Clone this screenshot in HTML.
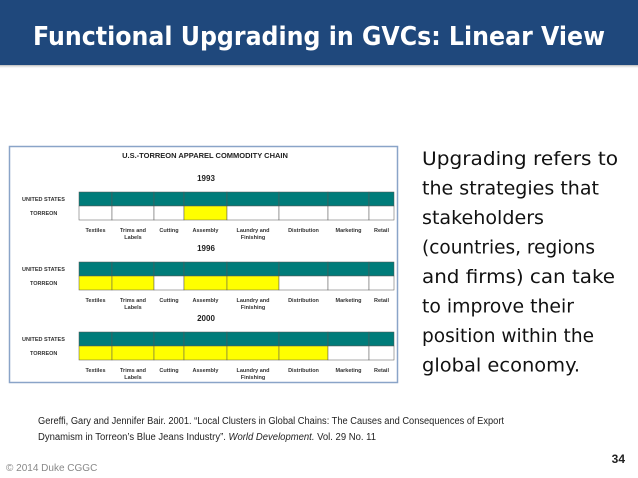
<!DOCTYPE html>
<html><head><meta charset="utf-8"><style>
html,body{margin:0;padding:0;background:#fff;}
svg{display:block;font-family:"Liberation Sans",sans-serif;}
</style></head><body>
<svg width="638" height="478" viewBox="0 0 638 478" xmlns="http://www.w3.org/2000/svg">
<defs><linearGradient id="sh" x1="0" y1="0" x2="0" y2="1"><stop offset="0" stop-color="#888" stop-opacity="0.6"/><stop offset="1" stop-color="#fff" stop-opacity="0"/></linearGradient></defs>
<rect x="0" y="0" width="638" height="65" fill="#1f487c"/>
<rect x="0" y="65" width="638" height="4" fill="url(#sh)"/>
<text x="33" y="45" font-size="26" font-weight="bold" fill="#fff" textLength="572" lengthAdjust="spacingAndGlyphs" font-family="DejaVu Sans, Liberation Sans, sans-serif">Functional Upgrading in GVCs: Linear View</text>

<rect x="9.5" y="146.5" width="388" height="236" fill="#fff" stroke="#8aa4c8" stroke-width="1.5"/>
<text x="205" y="158" font-size="7.5" font-weight="bold" text-anchor="middle" fill="#222">U.S.-TORREON APPAREL COMMODITY CHAIN</text>
<g id="chart"></g>

<g font-family="DejaVu Sans, Liberation Sans, sans-serif" font-size="19" fill="#111">
<text x="422" y="165" textLength="196" lengthAdjust="spacingAndGlyphs">Upgrading refers to</text>
<text x="422" y="194.5" textLength="177" lengthAdjust="spacingAndGlyphs">the strategies that</text>
<text x="422" y="224" textLength="122" lengthAdjust="spacingAndGlyphs">stakeholders</text>
<text x="422" y="253.5" textLength="173" lengthAdjust="spacingAndGlyphs">(countries, regions</text>
<text x="422" y="283" textLength="193" lengthAdjust="spacingAndGlyphs">and firms) can take</text>
<text x="422" y="312.5" textLength="152" lengthAdjust="spacingAndGlyphs">to improve their</text>
<text x="422" y="342" textLength="172" lengthAdjust="spacingAndGlyphs">position within the</text>
<text x="422" y="371.5" textLength="158" lengthAdjust="spacingAndGlyphs">global economy.</text>
</g>

<g font-size="10" fill="#222">
<text x="38" y="424" textLength="466" lengthAdjust="spacingAndGlyphs">Gereffi, Gary and Jennifer Bair.  2001.  “Local Clusters in Global Chains: The Causes and Consequences of Export</text>
<text x="38" y="440" textLength="338" lengthAdjust="spacingAndGlyphs">Dynamism in Torreon’s Blue Jeans Industry”. <tspan font-style="italic">World Development.</tspan> Vol. 29 No. 11</text>
</g>
<text x="625" y="463" font-size="12" font-weight="bold" text-anchor="end" fill="#222">34</text>
<text x="6" y="471" font-size="10" fill="#888">© 2014 Duke CGGC</text>
</svg>
<script>
const stages = ["Textiles","Trims and|Labels","Cutting","Assembly","Laundry and|Finishing","Distribution","Marketing","Retail"];
const years = ["1993","1996","2000"];
const torreon1993 = [0,0,0,1,0,0,0,0];
const torreon1996 = [1,1,0,1,1,0,0,0];
const torreon2000 = [1,1,1,1,1,1,0,0];
const torreonData = [torreon1993, torreon1996, torreon2000];
const colWidths = [33,42,30,43,52,49,41,25];

const NS = "http://www.w3.org/2000/svg";
const g = document.getElementById('chart');
const x0 = 79, rowH = 14;
const panelY = i => 192 + i * 70;
function mk(tag, attrs){const e=document.createElementNS(NS,tag);for(const k in attrs)e.setAttribute(k,attrs[k]);g.appendChild(e);return e;}
years.forEach((yr, i) => {
  const y = panelY(i);
  const yt = mk('text',{x:206,y:y-11,'font-size':8,'font-weight':'bold','text-anchor':'middle',fill:'#222'});
  yt.textContent = yr;
  
  
  const us = mk('text',{x:22,y:y+9,'font-size':5.5,'font-weight':'bold',fill:'#333'});
  us.textContent = 'UNITED STATES';
  
  
  const tr = mk('text',{x:30,y:y+23,'font-size':5.5,'font-weight':'bold',fill:'#333'});
  tr.textContent = 'TORREON';
  
  
  let x = x0;
  stages.forEach((s, j) => {
    const w = colWidths[j];
    const c1 = mk('rect',{x:x,y:y,width:w,height:rowH,fill:'#007c7a',stroke:'#555','stroke-width':0.5});
    
    
    const c2 = mk('rect',{x:x,y:y+rowH,width:w,height:rowH,fill:torreonData[i][j]?'#ffff00':'#fff',stroke:'#555','stroke-width':0.5});
    
    
    const parts = s.split('|');
    parts.forEach((p, k) => {
      const t = mk('text',{x:x+w/2,y:y+rowH*2+12+k*7,'font-size':5.5,'font-weight':'bold','text-anchor':'middle',fill:'#333'});
      t.textContent = p;
      
      
    });
    x += w;
  });
});
</script>
</body></html>
